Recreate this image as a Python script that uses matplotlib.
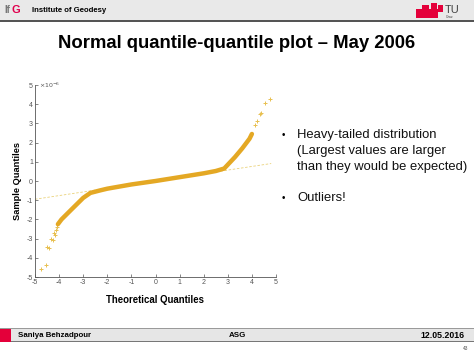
import matplotlib
matplotlib.use("Agg")
import matplotlib.pyplot as plt
from matplotlib.patches import Rectangle

plt.rcParams['font.family'] = ['Liberation Sans', 'DejaVu Sans']
plt.rcParams['axes.unicode_minus'] = False

# data (sample quantiles in units of 1e-6)
band_x = [-4.05, -3.9, -3.5, -3.0, -2.7, -2.3, -2.0, -1.0, 0.0, 1.0, 2.0, 2.5, 2.85, 3.0, 3.3, 3.6, 3.9, 4.0]
band_y = [-2.25, -2.0, -1.5, -0.88, -0.62, -0.49, -0.4, -0.18, 0.0, 0.2, 0.4, 0.52, 0.65, 0.85, 1.25, 1.7, 2.2, 2.45]
out_x = [-4.75, -4.54, -4.52, -4.42, -4.35, -4.24, -4.2, -4.17, -4.13, -4.1,
         4.13, 4.2, 4.34, 4.38, 4.54, 4.75]
out_y = [-4.6, -4.37, -3.42, -3.5, -3.02, -3.07, -2.72, -2.81, -2.55, -2.38,
         2.92, 3.1, 3.47, 3.55, 4.08, 4.25]
ref_x = [-5.0, 4.8]
ref_y = [-0.95, 0.91]
ticks = [-5, -4, -3, -2, -1, 0, 1, 2, 3, 4, 5]

W, H = 474, 355
fig = plt.figure(figsize=(W / 100, H / 100), dpi=100)
fig.patch.set_facecolor('white')


def fx(px):
    return px / W


def fy(py):
    return 1 - py / H


# header bar
fig.patches.append(Rectangle((0, fy(20)), 1, 20 / H, transform=fig.transFigure,
                             facecolor='#e9e9e9', edgecolor='none'))
fig.patches.append(Rectangle((0, fy(21.5)), 1, 1.5 / H, transform=fig.transFigure,
                             facecolor='#555555', edgecolor='none'))
fig.text(fx(4), fy(10), 'If', color='#777777', fontsize=7, fontweight='bold', va='center')
fig.text(fx(12), fy(10), 'G', color='#e0004d', fontsize=8, fontweight='bold', va='center')
fig.text(fx(32), fy(10.5), 'Institute of Geodesy', fontsize=5.6, fontweight='bold', va='center')
# TU Graz logo blocks
for (x0, y0, w, h) in [(416, 9, 22, 9), (422, 5, 7, 4), (431, 3, 6, 6), (438, 5, 5, 7)]:
    fig.patches.append(Rectangle((fx(x0), fy(y0 + h)), w / W, h / H, transform=fig.transFigure,
                                 facecolor='#e4003a', edgecolor='none'))
fig.text(fx(445), fy(10), 'TU', fontsize=8, color='#444444', va='center')
fig.text(fx(446), fy(17), 'Graz', fontsize=2.5, color='#444444', va='center')

# title
fig.text(0.5, fy(43), 'Normal quantile-quantile plot \u2013 May 2006', ha='center', va='center',
         fontsize=13.3, fontweight='bold')

# footer
fig.patches.append(Rectangle((0, fy(342)), 1, 14 / H, transform=fig.transFigure,
                             facecolor='#e6e6e6', edgecolor='none'))
fig.patches.append(Rectangle((0, fy(329)), 1, 1 / H, transform=fig.transFigure,
                             facecolor='#9a9a9a', edgecolor='none'))
fig.patches.append(Rectangle((0, fy(342)), 1, 1 / H, transform=fig.transFigure,
                             facecolor='#777777', edgecolor='none'))
fig.patches.append(Rectangle((0, fy(342)), 11 / W, 13 / H, transform=fig.transFigure,
                             facecolor='#e4003a', edgecolor='none'))
fig.text(fx(18), fy(335.5), 'Saniya Behzadpour', fontsize=5.7, fontweight='bold', va='center')
fig.text(fx(237), fy(335.5), 'ASG', fontsize=5.7, fontweight='bold', va='center', ha='center')
fig.text(fx(465), fy(335.5), '12.05.2016', fontsize=6.3, fontweight='bold', va='center', ha='right')
fig.text(fx(468), fy(349), '43', fontsize=3.5, color='#555555', va='center', ha='right')

# bullets
for py, txt in [(135, 'Heavy-tailed distribution'), (151, '(Largest values are larger'),
                (167, 'than they would be expected)'), (198, 'Outliers!')]:
    fig.text(fx(297), fy(py), txt, fontsize=9.4, va='center', color='#111111')
fig.text(fx(282), fy(135), '\u2022', fontsize=7, va='center')
fig.text(fx(282), fy(198), '\u2022', fontsize=7, va='center')

# plot
ax = fig.add_axes([fx(35), fy(277), 241 / W, 192 / H])
ax.plot(ref_x, ref_y, '--', color='#ead27a', lw=0.6, dashes=(3, 2))
ax.plot(band_x, band_y, '-', color='#e4a824', lw=3.2, solid_capstyle='round')
ax.scatter(out_x, out_y, marker='+', s=10, color='#e8c050', lw=0.7)
ax.set_xlim(-5, 5)
ax.set_ylim(-5, 5)
ax.set_xticks(ticks)
ax.set_yticks(ticks)
ax.tick_params(direction='in', length=2, width=0.5, labelsize=5, colors='#555555', pad=1.5)
for s in ['top', 'right']:
    ax.spines[s].set_visible(False)
for s in ['left', 'bottom']:
    ax.spines[s].set_color('#555555')
    ax.spines[s].set_linewidth(0.6)
ax.text(0.015, 1.0, r'$\times10^{-6}$', transform=ax.transAxes, fontsize=4.5, color='#555555',
        va='center', ha='left')
fig.text(fx(18), fy(181), 'Sample Quantiles', rotation=90, fontsize=6.7, fontweight='bold',
         va='center', ha='center')
fig.text(fx(155), fy(300), 'Theoretical Quantiles', fontsize=6.9, fontweight='bold',
         va='center', ha='center')

fig.savefig('out.png', dpi=100)
